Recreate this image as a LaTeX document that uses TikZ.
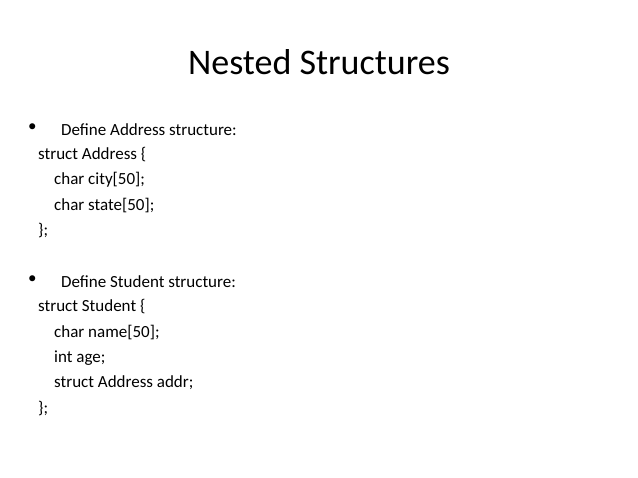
\documentclass[tikz,border=0pt]{standalone}
\usepackage{fontspec}
\setmainfont{Carlito}
\begin{document}
\begin{tikzpicture}[x=1pt,y=1pt,
  body/.style={anchor=west,inner sep=0pt,font=\fontsize{17}{20}\selectfont},
  ttl/.style={inner sep=0pt,font=\fontsize{36}{40}\selectfont}]
\useasboundingbox (0,0) rectangle (638,-478);
\node[ttl] (t) at (319,-62) {Nested Structures};
\node[body] (b1) at (28,-128) {\textbullet};
\node[body] (l1) at (61,-130) {Define Address structure:};
\node[body] (l2) at (38,-155) {struct Address \{};
\node[body] (l3) at (54,-180) {char city[50];};
\node[body] (l4) at (54,-206) {char state[50];};
\node[body] (l5) at (38,-231) {\};};
\node[body] (b2) at (28,-280) {\textbullet};
\node[body] (l6) at (61,-282) {Define Student structure:};
\node[body] (l7) at (38,-307) {struct Student \{};
\node[body] (l8) at (54,-333) {char name[50];};
\node[body] (l9) at (54,-358) {int age;};
\node[body] (l10) at (54,-383) {struct Address addr;};
\node[body] (l11) at (38,-409) {\};};
\end{tikzpicture}
\end{document}
